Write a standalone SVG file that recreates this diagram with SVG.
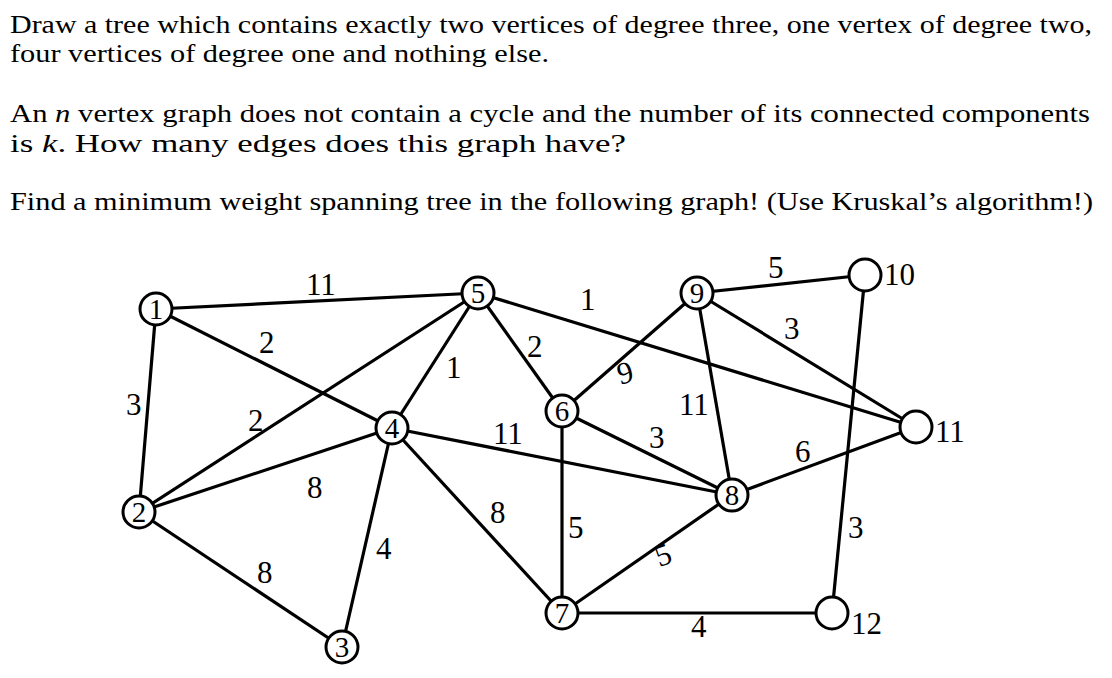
<svg xmlns="http://www.w3.org/2000/svg" width="1112" height="678" viewBox="0 0 1112 678" font-family="'Liberation Serif','Times New Roman',Times,serif">
<style>
text{font-family:'Liberation Serif','Times New Roman',Times,serif;fill:#000}
.p{font-size:25px}
.w{font-size:31px}
.n{font-size:29px;text-anchor:middle}
.l{font-size:31px}
circle{fill:#fff;stroke:#000;stroke-width:3}
#edges line{stroke:#000;stroke-width:3.2}
</style>
<rect width="1112" height="678" fill="#fff"/>
<text class="p" x="10" y="33" textLength="1082" lengthAdjust="spacingAndGlyphs">Draw a tree which contains exactly two vertices of degree three, one vertex of degree two,</text>
<text class="p" x="10" y="62" textLength="539" lengthAdjust="spacingAndGlyphs">four vertices of degree one and nothing else.</text>
<text class="p" x="10" y="122" textLength="1080" lengthAdjust="spacingAndGlyphs">An <tspan font-style="italic">n</tspan> vertex graph does not contain a cycle and the number of its connected components</text>
<text class="p" x="10" y="152" textLength="616" lengthAdjust="spacingAndGlyphs">is <tspan font-style="italic">k</tspan>. How many edges does this graph have?</text>
<text class="p" x="10" y="210" textLength="1083" lengthAdjust="spacingAndGlyphs">Find a minimum weight spanning tree in the following graph! (Use Kruskal’s algorithm!)</text>
<g id="edges">
<line x1="156" y1="309" x2="478" y2="293"/>
<line x1="156" y1="309" x2="392" y2="428"/>
<line x1="156" y1="309" x2="139" y2="512"/>
<line x1="139" y1="512" x2="478" y2="293"/>
<line x1="139" y1="512" x2="392" y2="428"/>
<line x1="139" y1="512" x2="342" y2="647"/>
<line x1="392" y1="428" x2="342" y2="647"/>
<line x1="392" y1="428" x2="478" y2="293"/>
<line x1="478" y1="293" x2="562" y2="411"/>
<line x1="478" y1="293" x2="916" y2="427"/>
<line x1="392" y1="428" x2="732" y2="495"/>
<line x1="392" y1="428" x2="562" y2="613"/>
<line x1="562" y1="411" x2="562" y2="613"/>
<line x1="562" y1="411" x2="732" y2="495"/>
<line x1="562" y1="411" x2="697" y2="293"/>
<line x1="697" y1="293" x2="732" y2="495"/>
<line x1="697" y1="293" x2="865" y2="275"/>
<line x1="697" y1="293" x2="916" y2="427"/>
<line x1="732" y1="495" x2="916" y2="427"/>
<line x1="562" y1="613" x2="732" y2="495"/>
<line x1="562" y1="613" x2="832" y2="613"/>
<line x1="865" y1="275" x2="832" y2="613"/>
</g>
<g id="weights" class="l">
<text x="306" y="295">11</text>
<text x="259" y="353">2</text>
<text x="126" y="415">3</text>
<text x="248" y="431">2</text>
<text x="446" y="378">1</text>
<text x="527" y="357">2</text>
<text x="493" y="444">11</text>
<text x="307" y="498">8</text>
<text x="490" y="523">8</text>
<text x="568" y="538">5</text>
<text x="376" y="559">4</text>
<text x="257" y="583">8</text>
<text x="580" y="310">1</text>
<text x="768" y="278">5</text>
<text x="784" y="339">3</text>
<text x="618" y="383" transform="rotate(-15 626 375)">9</text>
<text x="679" y="415">11</text>
<text x="649" y="448">3</text>
<text x="795" y="462">6</text>
<text x="848" y="538">3</text>
<text x="656" y="565" transform="rotate(-20 664 557)">5</text>
<text x="691" y="637">4</text>
</g>
<g id="n1"><circle cx="156" cy="309" r="16"/><text class="n" x="156" y="319">1</text></g>
<g id="n2"><circle cx="139" cy="512" r="16"/><text class="n" x="139" y="522">2</text></g>
<g id="n3"><circle cx="342" cy="647" r="16"/><text class="n" x="342" y="657">3</text></g>
<g id="n4"><circle cx="392" cy="428" r="16"/><text class="n" x="392" y="438">4</text></g>
<g id="n5"><circle cx="478" cy="293" r="16"/><text class="n" x="478" y="303">5</text></g>
<g id="n6"><circle cx="562" cy="411" r="16"/><text class="n" x="562" y="421">6</text></g>
<g id="n7"><circle cx="562" cy="613" r="16"/><text class="n" x="562" y="623">7</text></g>
<g id="n8"><circle cx="732" cy="495" r="16"/><text class="n" x="732" y="505">8</text></g>
<g id="n9"><circle cx="697" cy="293" r="16"/><text class="n" x="697" y="303">9</text></g>
<g id="n10"><circle cx="865" cy="275" r="16"/><text class="w" x="884" y="285">10</text></g>
<g id="n11"><circle cx="916" cy="427" r="16"/><text class="w" x="935" y="442">11</text></g>
<g id="n12"><circle cx="832" cy="613" r="16"/><text class="w" x="851" y="634">12</text></g>
</svg>
